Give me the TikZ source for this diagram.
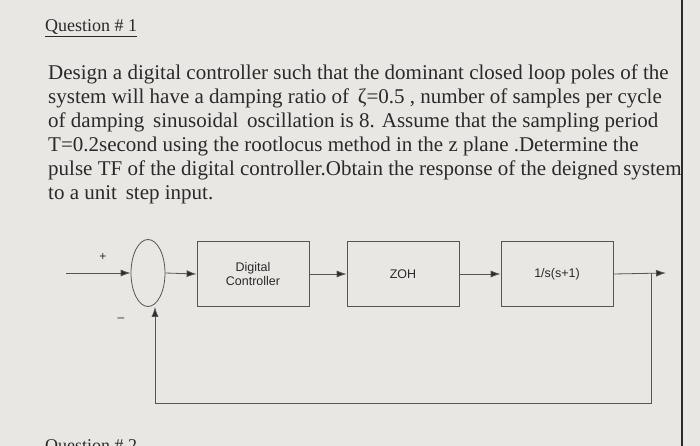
\documentclass[tikz,border=0pt]{standalone}
\usepackage{fontspec}
\setmainfont{Liberation Serif}
\newfontfamily\arialf{Liberation Sans}
\usetikzlibrary{arrows.meta,shapes.geometric}
\definecolor{bg}{HTML}{E9E7E4}
\definecolor{ink}{HTML}{2A2A2A}
\definecolor{ln}{HTML}{555555}
\begin{document}
\begin{tikzpicture}[x=1pt,y=-1pt,
  txt/.style={anchor=base west,inner sep=0pt,font=\fontsize{21}{22}\selectfont,text=ink},
  blk/.style={draw=ln,line width=0.8pt,minimum width=112pt,minimum height=65pt,font=\arialf\fontsize{12.5}{14}\selectfont,align=center,text=ink},
  sig/.style={draw=ln,line width=0.8pt,-{Latex[length=10pt,width=7pt,fill=ink]}},
  lbl/.style={font=\arialf\fontsize{12}{12}\selectfont,text=ink}]
\useasboundingbox (0,0) rectangle (700,446);
\fill[bg] (0,0) rectangle (700,446);
\clip (0,0) rectangle (700,446);
\draw[ink,line width=1.2pt] (682,0) -- (682,446);
\node[txt,font=\fontsize{18}{18}\selectfont] (q1) at (45,32) {\underline{Question \# 1}};
\node[txt] (l1) at (48,80) {Design a digital controller such that the dominant closed loop poles of the};
\node[txt] (l2) at (48,104) {system will have a damping ratio of \,ζ=0.5 , number of samples per cycle};
\node[txt] (l3) at (48,128) {of damping \,sinusoidal \,oscillation is 8. Assume that the sampling period};
\node[txt] (l4) at (48,152) {T=0.2second using the rootlocus method in the z plane .Determine the};
\node[txt] (l5) at (48,176) {pulse TF of the digital controller.Obtain the response of the deigned system};
\node[txt] (l6) at (48,200) {to a unit \,step input.};
\node[txt,font=\fontsize{18}{18}\selectfont] (q2) at (45,451) {Question \# 2};
% diagram
\node[draw=ln,line width=0.8pt,ellipse,minimum width=34pt,minimum height=67pt,inner sep=0pt] (sum) at (148,273) {};
\node[blk] (dc) at (253,274) {Digital\\Controller};
\node[blk] (zoh) at (403,274) {ZOH};
\node[blk] (pl) at (557,274) {1/s(s+1)};
\coordinate (in) at (66,273);
\coordinate (out) at (666,273);
\coordinate (fb1) at (651,273);
\coordinate (fb2) at (651,403);
\coordinate (fb3) at (155,403);
\draw[sig] (in) -- (sum.west);
\draw[sig] (sum.east) -- (dc.west);
\draw[sig] (dc.east) -- (zoh.west);
\draw[sig] (zoh.east) -- (pl.west);
\draw[sig] (pl.east) -- (out);
\draw[sig] (fb1) -- (fb2) -- (fb3) -- (fb3 |- sum.south);
\node[lbl] (plus) at (103,257) {+};
\node[lbl] (minus) at (121,320) {–};
\end{tikzpicture}
\end{document}
